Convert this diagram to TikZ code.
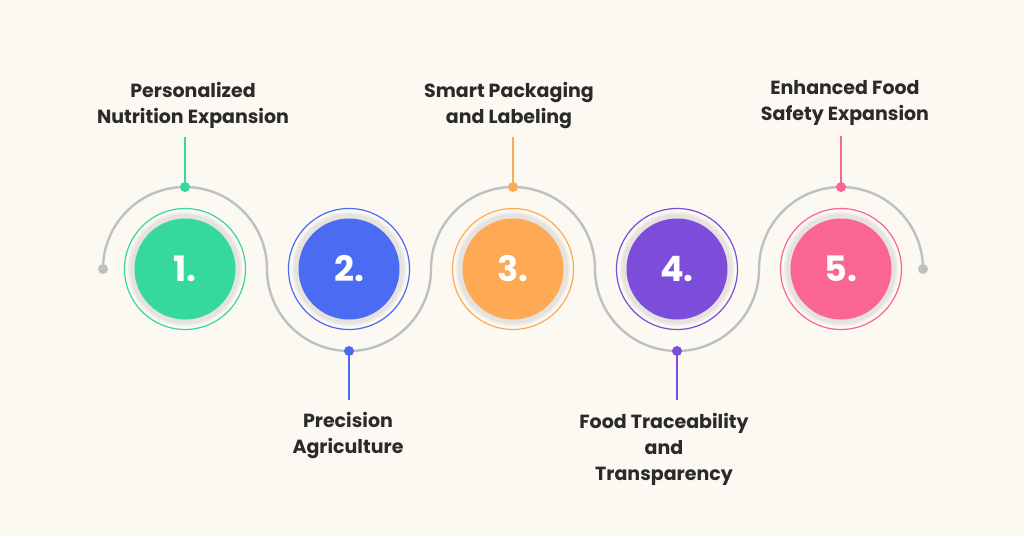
\documentclass[tikz,border=0pt]{standalone}
\usepackage{fontspec}
\setmainfont{Poppins}
\definecolor{bg}{HTML}{FCF8F2}
\definecolor{wavec}{HTML}{BCC3BE}
\definecolor{txt}{HTML}{2A2A2A}
\definecolor{cA}{HTML}{34D99B}
\definecolor{cB}{HTML}{4A6CF3}
\definecolor{cC}{HTML}{FEAA55}
\definecolor{cD}{HTML}{7C4DDB}
\definecolor{cE}{HTML}{FA6592}
\definecolor{halo}{HTML}{E6E2DE}
\tikzset{
  wave/.style={draw=wavec, line width=2.4pt},
  ring/.style={circle, draw=#1, line width=1.2pt, minimum size=121pt, inner sep=0pt},
  halo/.style={circle, fill=halo, minimum size=110pt, inner sep=0pt},
  disc/.style={circle, fill=#1, minimum size=101pt, inner sep=0pt, text=white, font=\bfseries\fontsize{35}{35}\selectfont},
  dot/.style={circle, fill=#1, minimum size=10pt, inner sep=0pt},
  stem/.style={draw=#1, line width=2.6pt},
  lbl/.style={align=center, text=txt, font=\bfseries\fontsize{19}{26}\selectfont, inner sep=0pt},
}
\begin{document}
\begin{tikzpicture}[x=1pt,y=-1pt]
\fill[bg] (0,0) rectangle (1024,536);
\useasboundingbox (0,0) rectangle (1024,536);
% wave
\coordinate (w0) at (103,269);
\coordinate (w5) at (923,269);
\draw[wave] (w0) arc[start angle=180,end angle=360,radius=82]
  arc[start angle=180,end angle=0,radius=82]
  arc[start angle=180,end angle=360,radius=82]
  arc[start angle=180,end angle=0,radius=82]
  arc[start angle=180,end angle=360,radius=82];
\node[dot=wavec] (e0) at (w0) {};
\node[dot=wavec] (e5) at (w5) {};
% circles
\foreach \i/\x/\c in {1/185/cA,2/349/cB,3/513/cC,4/677/cD,5/841/cE}{
  \node[ring=\c] (r\i) at (\x,269) {};
  \node[halo, opacity=0.5, minimum size=114pt] at (\x,269) {};
  \node[halo] (h\i) at (\x,269) {};
  \node[disc=\c] (n\i) at (\x,269) {\i.};
}
% dots and stems
\node[dot=cA] (d1) at (185,187) {};
\node[dot=cB] (d2) at (349,351) {};
\node[dot=cC] (d3) at (513,187) {};
\node[dot=cD] (d4) at (677,351) {};
\node[dot=cE] (d5) at (841,187) {};
\coordinate (s1) at (185,137);
\coordinate (s2) at (349,400);
\coordinate (s3) at (513,137);
\coordinate (s4) at (677,400);
\coordinate (s5) at (841,136);
\draw[stem=cA] (d1.center) -- (s1);
\draw[stem=cB] (d2.center) -- (s2);
\draw[stem=cC] (d3.center) -- (s3);
\draw[stem=cD] (d4.center) -- (s4);
\draw[stem=cE] (d5.center) -- (s5);
% labels
\node[lbl] (t1) at (193,105) {Personalized\\Nutrition Expansion};
\node[lbl] (t2) at (348,435) {Precision\\Agriculture};
\node[lbl] (t3) at (509,105) {Smart Packaging\\and Labeling};
\node[lbl] (t4) at (664,449) {Food Traceability\\and\\Transparency};
\node[lbl] (t5) at (845,103) {Enhanced Food\\Safety Expansion};
\end{tikzpicture}
\end{document}
